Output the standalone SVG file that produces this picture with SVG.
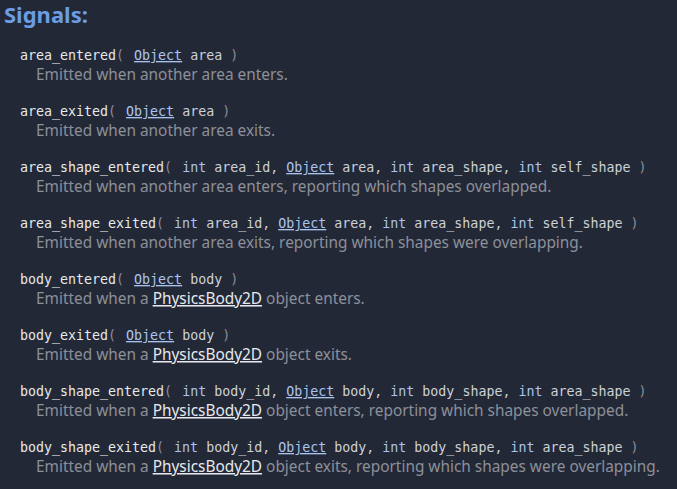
<svg xmlns="http://www.w3.org/2000/svg" width="677" height="489" viewBox="0 0 677 489">
<style>
.t{font-family:"Noto Sans","DejaVu Sans",sans-serif;font-size:22px;font-weight:bold;fill:#6b9de4}
.s{font-family:"DejaVu Sans Mono",monospace;font-size:13.3px;fill:#e6e8ec;white-space:pre}
.p{fill:#8a8f99}
.k{fill:#a9c4f0}
.o{fill:#a9c4f0;text-decoration:underline}
.n{fill:#cdd1d8}
.d{font-family:"Noto Sans","DejaVu Sans",sans-serif;font-size:15.4px;fill:#8c9099}
.l{fill:#e6e8ec;text-decoration:underline}
</style>
<rect width="677" height="489" fill="#232837"/>
<text class="t" x="4" y="23">Signals:</text>
<g id="s1"><text class="s" x="20" y="60" xml:space="preserve">area_entered<tspan class="p">( </tspan><tspan class="o" dx="2">Object</tspan><tspan class="n"> area </tspan><tspan class="p">)</tspan></text><text class="d" x="36" y="80">Emitted when another area enters.</text></g>
<g id="s2"><text class="s" x="20" y="116" xml:space="preserve">area_exited<tspan class="p">( </tspan><tspan class="o" dx="2">Object</tspan><tspan class="n"> area </tspan><tspan class="p">)</tspan></text><text class="d" x="36" y="136">Emitted when another area exits.</text></g>
<g id="s3"><text class="s" x="20" y="172" xml:space="preserve">area_shape_entered<tspan class="p">( </tspan><tspan class="k" dx="2">int</tspan><tspan class="n"> area_id, </tspan><tspan class="o">Object</tspan><tspan class="n"> area, </tspan><tspan class="k">int</tspan><tspan class="n"> area_shape, </tspan><tspan class="k">int</tspan><tspan class="n"> self_shape </tspan><tspan class="p">)</tspan></text><text class="d" x="36" y="192">Emitted when another area enters, reporting which shapes overlapped.</text></g>
<g id="s4"><text class="s" x="20" y="228" xml:space="preserve">area_shape_exited<tspan class="p">( </tspan><tspan class="k" dx="2">int</tspan><tspan class="n"> area_id, </tspan><tspan class="o">Object</tspan><tspan class="n"> area, </tspan><tspan class="k">int</tspan><tspan class="n"> area_shape, </tspan><tspan class="k">int</tspan><tspan class="n"> self_shape </tspan><tspan class="p">)</tspan></text><text class="d" x="36" y="248">Emitted when another area exits, reporting which shapes were overlapping.</text></g>
<g id="s5"><text class="s" x="20" y="284" xml:space="preserve">body_entered<tspan class="p">( </tspan><tspan class="o" dx="2">Object</tspan><tspan class="n"> body </tspan><tspan class="p">)</tspan></text><text class="d" x="36" y="304" xml:space="preserve">Emitted when a <tspan class="l">PhysicsBody2D</tspan> object enters.</text></g>
<g id="s6"><text class="s" x="20" y="340" xml:space="preserve">body_exited<tspan class="p">( </tspan><tspan class="o" dx="2">Object</tspan><tspan class="n"> body </tspan><tspan class="p">)</tspan></text><text class="d" x="36" y="360" xml:space="preserve">Emitted when a <tspan class="l">PhysicsBody2D</tspan> object exits.</text></g>
<g id="s7"><text class="s" x="20" y="396" xml:space="preserve">body_shape_entered<tspan class="p">( </tspan><tspan class="k" dx="2">int</tspan><tspan class="n"> body_id, </tspan><tspan class="o">Object</tspan><tspan class="n"> body, </tspan><tspan class="k">int</tspan><tspan class="n"> body_shape, </tspan><tspan class="k">int</tspan><tspan class="n"> area_shape </tspan><tspan class="p">)</tspan></text><text class="d" x="36" y="416" xml:space="preserve">Emitted when a <tspan class="l">PhysicsBody2D</tspan> object enters, reporting which shapes overlapped.</text></g>
<g id="s8"><text class="s" x="20" y="452" xml:space="preserve">body_shape_exited<tspan class="p">( </tspan><tspan class="k" dx="2">int</tspan><tspan class="n"> body_id, </tspan><tspan class="o">Object</tspan><tspan class="n"> body, </tspan><tspan class="k">int</tspan><tspan class="n"> body_shape, </tspan><tspan class="k">int</tspan><tspan class="n"> area_shape </tspan><tspan class="p">)</tspan></text><text class="d" x="36" y="472" xml:space="preserve">Emitted when a <tspan class="l">PhysicsBody2D</tspan> object exits, reporting which shapes were overlapping.</text></g>
</svg>
